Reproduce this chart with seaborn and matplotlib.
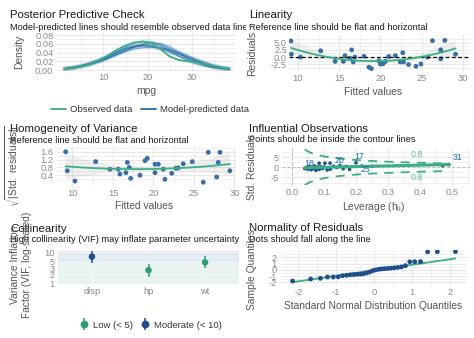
import matplotlib
matplotlib.use("Agg")
import matplotlib.pyplot as plt
from matplotlib.collections import PolyCollection
from matplotlib.lines import Line2D
from matplotlib.legend_handler import HandlerTuple
from matplotlib.ticker import FixedLocator, FormatStrFormatter, FixedFormatter, NullFormatter
from matplotlib.transforms import Bbox, TransformedBbox
import numpy as np
import pandas as pd
import seaborn as sns

# ------------------------------------------------------------------ data
# Posterior predictive check: density of mpg on a shared grid
mpg_grid = [1.2, 3, 5, 7, 9, 11, 13, 15, 17, 19, 21, 23, 25, 27, 29, 31, 33, 35, 37, 38.4]
observed_density = [0.0025, 0.004, 0.008, 0.013, 0.022, 0.033, 0.046, 0.056, 0.063, 0.065,
                    0.060, 0.047, 0.031, 0.023, 0.020, 0.017, 0.013, 0.009, 0.005, 0.003]
predicted_a = [0.003, 0.005, 0.009, 0.014, 0.021, 0.029, 0.038, 0.046, 0.053, 0.056,
               0.056, 0.052, 0.046, 0.038, 0.029, 0.021, 0.014, 0.009, 0.005, 0.003]
predicted_b = [0.004, 0.006, 0.010, 0.016, 0.024, 0.033, 0.042, 0.050, 0.055, 0.057,
               0.054, 0.048, 0.040, 0.032, 0.024, 0.017, 0.011, 0.007, 0.004, 0.002]
predicted_c = [0.002, 0.004, 0.007, 0.012, 0.018, 0.026, 0.035, 0.045, 0.054, 0.060,
               0.062, 0.058, 0.049, 0.038, 0.027, 0.018, 0.011, 0.006, 0.003, 0.002]
predicted_d = [0.003, 0.006, 0.010, 0.015, 0.021, 0.028, 0.035, 0.042, 0.048, 0.051,
               0.052, 0.050, 0.046, 0.040, 0.033, 0.025, 0.018, 0.011, 0.006, 0.004]
predicted_e = [0.002, 0.004, 0.008, 0.013, 0.020, 0.030, 0.041, 0.052, 0.061, 0.066,
               0.064, 0.056, 0.044, 0.032, 0.022, 0.014, 0.009, 0.005, 0.003, 0.002]
predicted_f = [0.003, 0.005, 0.009, 0.015, 0.023, 0.032, 0.041, 0.049, 0.054, 0.055,
               0.053, 0.049, 0.043, 0.036, 0.029, 0.022, 0.015, 0.009, 0.005, 0.003]
predicted_g = [0.002, 0.005, 0.008, 0.013, 0.019, 0.027, 0.036, 0.045, 0.052, 0.058,
               0.061, 0.060, 0.053, 0.042, 0.031, 0.021, 0.013, 0.007, 0.004, 0.002]
predicted_draws = [predicted_a, predicted_b, predicted_c, predicted_d,
                   predicted_e, predicted_f, predicted_g]

# Linearity: fitted values and residuals
lin_fitted = [9.15, 9.2, 10.3, 12.75, 14.5, 15.5, 15.7, 16.3, 16.5, 16.7, 16.9, 18.0,
              18.6, 18.9, 19.8, 20.0, 20.3, 20.6, 21.0, 21.8, 22.4, 22.7, 22.8, 23.4,
              24.3, 24.9, 25.7, 26.3, 27.3, 27.3, 27.8, 29.1]
lin_resid = [5.6, 1.0, 0.0, 2.2, -1.5, -1.5, 0.5, -0.35, 2.5, -1.7, 0.0, 0.3,
             -3.5, -4.0, -1.3, -2.4, -2.3, -1.5, 0.2, 0.5, -1.7, 1.5, -1.7, -2.6,
             -3.2, -2.4, 0.0, 5.7, 2.5, -0.6, 5.8, 1.0]

# Homogeneity of variance: fitted values and sqrt(|standardised residuals|)
hom_fitted = [9.16, 9.36, 10.31, 12.86, 14.63, 15.65, 15.86, 16.6, 16.77, 17.01,
              17.18, 18.33, 18.95, 19.24, 20.19, 20.19, 20.6, 21.21, 21.42, 22.25,
              22.78, 23.06, 23.68, 24.79, 26.15, 26.77, 27.8, 28.0, 28.21, 29.44]
hom_sqrt_resid = [1.6, 0.62, 0.09, 1.09, 0.70, 0.70, 0.45, 0.52, 1.05, 0.79,
                  0.23, 0.39, 1.14, 1.26, 0.52, 0.96, 0.96, 0.70, 0.18, 0.49,
                  0.75, 0.77, 0.98, 1.09, 0.03, 1.57, 0.30, 1.05, 1.57, 0.62]

# Influential observations: leverage and standardised residuals
infl_leverage = [0.085, 0.119, 0.20, 0.218, 0.49, 0.103,
                 0.04, 0.045, 0.05, 0.05, 0.055, 0.06, 0.06, 0.065, 0.07, 0.07,
                 0.075, 0.08, 0.085, 0.09, 0.095, 0.10,
                 0.11, 0.12, 0.13, 0.14, 0.15, 0.16, 0.17, 0.18, 0.25, 0.47]
infl_std_resid = [2.0, 2.05, 2.25, 0.64, 1.3, 2.0,
                  -0.6, -0.5, 0.1, -0.9, 0.4, -1.2, 0.0, -0.3, 0.6, -0.7,
                  -1.5, 0.2, -1.0, 0.3, -0.6, 0.1,
                  -1.3, -0.9, 0.5, -0.1, 0.9, -0.7, 0.4, -1.0, 0.5, 0.8]
infl_labels = ["18", "20", "17", "25", "31"]          # ids of the first five points
infl_label_offsets = [(-7, 0), (7, 2), (2, 4.5), (3, -2.5), (6, 5)]
cook_level = 0.8
n_params = 4

# Collinearity: variance inflation factors with intervals
vif_terms = ["disp", "hp", "wt"]
vif_values = [7.3, 2.7, 4.8]
vif_low = [4.7, 1.6, 3.1]
vif_high = [11.5, 4.3, 7.6]
vif_class = ["Moderate (< 10)", "Low (< 5)", "Low (< 5)"]

# Normality of residuals: theoretical vs sample quantiles
theoretical_q = [-2.154, -1.676, -1.418, -1.230, -1.078, -0.947, -0.831, -0.725,
                 -0.626, -0.534, -0.445, -0.360, -0.278, -0.197, -0.118, -0.039,
                 0.039, 0.118, 0.197, 0.278, 0.360, 0.445, 0.534, 0.626,
                 0.725, 0.831, 0.947, 1.078, 1.230, 1.418, 1.676, 2.154]
sample_q = [-1.79, -1.47, -1.36, -1.15, -1.15, -1.12, -0.94, -0.88,
            -0.80, -0.76, -0.72, -0.68, -0.62, -0.50, -0.36, -0.15,
            -0.02, 0.08, 0.14, 0.18, 0.22, 0.27, 0.32, 0.38,
            0.46, 0.66, 1.28, 1.30, 1.31, 2.88, 2.90, 2.92]
qq_intercept = -0.08
qq_slope = 0.88

# ------------------------------------------------------------------ style
sns.set_theme(style="white")
plt.rcParams["font.family"] = ["Liberation Sans", "DejaVu Sans"]
plt.rcParams["mathtext.fontset"] = "custom"
plt.rcParams["mathtext.rm"] = "Liberation Sans"
plt.rcParams["mathtext.it"] = "Liberation Sans:italic"
plt.rcParams["axes.unicode_minus"] = False

GREEN = "#3aaf85"
BLUE = "#1b6ca8"
DOT = "#3a6ea5"
NAVY = "#1f4e8a"
RED = "#cd201f"
GRID = "#e8e8e8"
TITLE_C = "#1a1a1a"
AXT_C = "#555555"
TICK_C = "#8a8a8a"

TITLE_PT = 8.2
SUB_PT = 6.7
AXT_PT = 7.4
TICK_PT = 6.7

W, H = 474, 338
fig = plt.figure(figsize=(W / 100, H / 100), dpi=100)
fig.patch.set_facecolor("white")

LEFT_CLIP = TransformedBbox(Bbox([[0, 0], [246 / W, 1]]), fig.transFigure)


def panel(x0, y0, x1, y1, ypad=2.0):
    ax = fig.add_axes([x0 / W, 1 - y1 / H, (x1 - x0) / W, (y1 - y0) / H])
    ax.set_facecolor("white")
    for s in ax.spines.values():
        s.set_visible(False)
    ax.tick_params(which="both", length=0, labelsize=TICK_PT, colors=TICK_C)
    ax.tick_params(axis="x", pad=2.0)
    ax.tick_params(axis="y", pad=ypad)
    ax.set_axisbelow(True)
    ax.grid(True, which="major", color=GRID, lw=0.8)
    ax.grid(True, which="minor", color=GRID, lw=0.45)
    ax.set_xlabel("")
    ax.set_ylabel("")
    return ax


def ticks(ax, xmaj=None, xmin=None, ymaj=None, ymin=None, xfmt=None, yfmt=None):
    if xmaj is not None:
        ax.xaxis.set_major_locator(FixedLocator(xmaj))
    if xmin is not None:
        ax.xaxis.set_minor_locator(FixedLocator(xmin))
    if ymaj is not None:
        ax.yaxis.set_major_locator(FixedLocator(ymaj))
    if ymin is not None:
        ax.yaxis.set_minor_locator(FixedLocator(ymin))
    if xfmt:
        ax.xaxis.set_major_formatter(FormatStrFormatter(xfmt))
    if yfmt:
        ax.yaxis.set_major_formatter(FormatStrFormatter(yfmt))
    ax.xaxis.set_minor_formatter(NullFormatter())
    ax.yaxis.set_minor_formatter(NullFormatter())


def txt(x, y, s, size, color, clip=False, **kw):
    t = fig.text(x / W, 1 - y / H, s, fontsize=size, color=color, **kw)
    if clip:
        t.set_clip_on(True)
        t.set_clip_box(LEFT_CLIP)
    return t


def headings(x, y_title, y_sub, title, subtitle, clip=False):
    txt(x, y_title, title, TITLE_PT, TITLE_C, va="baseline", ha="left")
    txt(x, y_sub, subtitle, SUB_PT, TITLE_C, va="baseline", ha="left", clip=clip)


def ylab(x, y, s):
    txt(x, y, s, AXT_PT, AXT_C, rotation=90, ha="center", va="center",
        multialignment="center")


def xlab(x, y, s):
    txt(x, y, s, AXT_PT, AXT_C, ha="center", va="baseline")


def grey_band(ax):
    for c in ax.collections:
        if isinstance(c, PolyCollection):
            c.set_facecolor((0.62, 0.62, 0.62, 0.28))
            c.set_edgecolor("none")


# ---------------------------------------------------- posterior predictive
ax = panel(57, 33, 236, 70.5, ypad=2.6)
ppc_long = pd.DataFrame({
    "mpg": mpg_grid * len(predicted_draws),
    "density": sum(predicted_draws, []),
    "draw": np.repeat(np.arange(len(predicted_draws)), len(mpg_grid)),
})
sns.lineplot(data=ppc_long, x="mpg", y="density", units="draw", estimator=None,
             color=BLUE, lw=3.0, alpha=0.08, ax=ax)
sns.lineplot(data=ppc_long, x="mpg", y="density", units="draw", estimator=None,
             color=BLUE, lw=0.8, alpha=0.5, ax=ax)
sns.lineplot(x=mpg_grid, y=observed_density, color=GREEN, lw=1.3, ax=ax)
ax.set_xlim(-0.5, 40.0)
ax.set_ylim(-0.0011, 0.0846)
ticks(ax, [10, 20, 30], [5, 15, 25, 35], [0, 0.02, 0.04, 0.06, 0.08],
      [0.01, 0.03, 0.05, 0.07], "%g", "%.2f")
ax.set_xlabel("")
ax.set_ylabel("")
headings(10, 18, 29.5, "Posterior Predictive Check",
         "Model-predicted lines should resemble observed data lines", clip=True)
ylab(19.5, 52, "Density")
xlab(146.5, 94, "mpg")
ppc_handles = [Line2D([], [], color=GREEN, lw=1.3), Line2D([], [], color=BLUE, lw=1.3)]
fig.legend(ppc_handles, ["Observed data", "Model-predicted data"], loc="center",
           bbox_to_anchor=(150 / W, 1 - 110 / H), ncol=2, frameon=False,
           fontsize=6.8, handlelength=1.6, handletextpad=0.4, columnspacing=0.9,
           labelcolor="#333333", borderpad=0, borderaxespad=0)

# ---------------------------------------------------------------- linearity
ax = panel(289, 35, 470, 71.5, ypad=1.5)
sns.scatterplot(x=lin_fitted, y=lin_resid, color=DOT, s=12, edgecolor="none", ax=ax,
                zorder=2)
sns.regplot(x=lin_fitted, y=lin_resid, order=2, scatter=False, ci=95, n_boot=500,
            seed=3, color=GREEN, line_kws=dict(lw=1.3, zorder=4), ax=ax)
grey_band(ax)
ax.axhline(0, color="black", ls=(0, (3, 2)), lw=0.9, zorder=3)
ax.set_xlim(8.91, 30.85)
ax.set_ylim(-5.0, 7.67)
ticks(ax, [10, 15, 20, 25, 30], [12.5, 17.5, 22.5, 27.5], [-2.5, 0, 2.5, 5.0],
      [-3.75, -1.25, 1.25, 3.75, 6.25], "%g", "%.1f")
ax.set_xlabel("")
ax.set_ylabel("")
headings(249, 18, 29.5, "Linearity", "Reference line should be flat and horizontal")
ylab(252, 53.3, "Residuals")
xlab(373, 95.4, "Fitted values")

# ------------------------------------------------------- homogeneity of var
ax = panel(57, 146.7, 236, 186.5, ypad=2.6)
sns.scatterplot(x=hom_fitted, y=hom_sqrt_resid, color=DOT, s=12, edgecolor="none",
                ax=ax, zorder=2)
sns.regplot(x=hom_fitted, y=hom_sqrt_resid, order=2, scatter=False, ci=95, n_boot=500,
            seed=3, color=GREEN, line_kws=dict(lw=1.3, zorder=4), ax=ax)
grey_band(ax)
ax.set_xlim(8.09, 30.19)
ax.set_ylim(-0.19, 1.86)
ticks(ax, [10, 15, 20, 25, 30], [12.5, 17.5, 22.5, 27.5], [0.4, 0.8, 1.2, 1.6],
      [0.2, 0.6, 1.0, 1.4, 1.8], "%g", "%.1f")
ax.set_xlabel("")
ax.set_ylabel("")
headings(10, 132.3, 143.3, "Homogeneity of Variance",
         "Reference line should be flat and horizontal")
ylab(13, 166, r"$\sqrt{|\mathrm{Std.\ residuals}|}$")
xlab(144, 209.4, "Fitted values")

# ---------------------------------------------------- influential observations
ax = panel(282, 148, 470, 185, ypad=2.4)
ax.axhline(0, color="#b5b5b5", ls=(0, (3, 3)), lw=0.6, zorder=1)
ax.axvline(0, color="#b5b5b5", ls=(0, (3, 3)), lw=0.6, zorder=1)
h = np.linspace(min(infl_leverage), max(infl_leverage), 120)
contour = np.sqrt(cook_level * n_params * (1 - h) / h)
ax.plot(h, contour, color=GREEN, lw=1.3, ls=(0, (5, 4)), zorder=2)
ax.plot(h, -contour, color=GREEN, lw=1.3, ls=(0, (5, 4)), zorder=2)
sns.scatterplot(x=infl_leverage, y=infl_std_resid, color=NAVY, s=7, edgecolor="none",
                ax=ax, zorder=3)
sns.regplot(x=infl_leverage, y=infl_std_resid, scatter=False, ci=None, color=GREEN,
            line_kws=dict(lw=2.2, zorder=4), ax=ax)
for lab, lv, sr, off in zip(infl_labels, infl_leverage, infl_std_resid, infl_label_offsets):
    ax.annotate(lab, (lv, sr), xytext=off, textcoords="offset points", ha="center",
                va="center", fontsize=6.3, color=BLUE, zorder=5)
h_lab = 0.39
c_lab = np.sqrt(cook_level * n_params * (1 - h_lab) / h_lab)
ax.annotate(f"{cook_level:g}", (h_lab, c_lab), xytext=(0, 6), textcoords="offset points",
            ha="center", va="center", fontsize=6.3, color=GREEN, alpha=0.8)
ax.annotate(f"{cook_level:g}", (h_lab, -c_lab), xytext=(0, -4), textcoords="offset points",
            ha="center", va="center", fontsize=6.3, color=GREEN, alpha=0.8)
ax.set_xlim(-0.031, 0.556)
ax.set_ylim(-8.68, 9.46)
ticks(ax, [0, 0.1, 0.2, 0.3, 0.4, 0.5], [0.05, 0.15, 0.25, 0.35, 0.45, 0.55],
      [-5, 0, 5], [-7.5, -2.5, 2.5, 7.5], "%.1f", "%g")
ax.set_xlabel("")
ax.set_ylabel("")
headings(249, 131.7, 142.3, "Influential Observations",
         "Points should be inside the contour lines")
ylab(252, 167, "Std. Residuals")
xlab(373.7, 209.7, r"Leverage ($\mathrm{h_{ii}}$)")

# -------------------------------------------------------------- collinearity
ax = panel(58, 251, 239, 284, ypad=2.6)
ax.set_yscale("log")
ax.axhspan(0.98, 5, color=GREEN, alpha=0.13, lw=0, zorder=0.1)
ax.axhspan(5, 10, color=BLUE, alpha=0.13, lw=0, zorder=0.1)
ax.axhspan(10, 11.0, color=RED, alpha=0.13, lw=0, zorder=0.1)
ax.grid(True, which="major", color="#f4f4f4", lw=0.8)
ax.grid(True, which="minor", color="#f4f4f4", lw=0.45)
vif_df = pd.DataFrame({"term": vif_terms, "vif": vif_values, "low": vif_low,
                       "high": vif_high, "cls": vif_class})
vif_df["pos"] = np.arange(len(vif_df))
vif_palette = {"Low (< 5)": "#2e9e77", "Moderate (< 10)": NAVY}
ax.vlines(vif_df["pos"], vif_df["low"], vif_df["high"],
          colors=[vif_palette[c] for c in vif_df["cls"]], lw=1.1, zorder=3)
sns.scatterplot(data=vif_df, x="pos", y="vif", hue="cls", palette=vif_palette, s=22,
                edgecolor="none", legend=False, ax=ax, zorder=4)
ax.set_xlim(-0.6, 2.6)
ax.set_ylim(0.98, 11.0)
ax.xaxis.set_major_locator(FixedLocator(list(vif_df["pos"])))
ax.xaxis.set_major_formatter(FixedFormatter(vif_terms))
ax.xaxis.set_minor_locator(FixedLocator([]))
ax.yaxis.set_major_locator(FixedLocator([1, 2, 3, 5, 10]))
ax.yaxis.set_major_formatter(FixedFormatter(["1", "2", "3", "5", "10"]))
ax.yaxis.set_minor_locator(FixedLocator([1.41, 2.45, 3.87, 7.07]))
ax.yaxis.set_minor_formatter(NullFormatter())
ax.set_xlabel("")
ax.set_ylabel("")
headings(10, 231.7, 241.7, "Collinearity",
         "High collinearity (VIF) may inflate parameter uncertainty", clip=True)
ylab(21, 265, "Variance Inflation\nFactor (VIF, log-scaled)")
vif_handles = []
for cls in ["Low (< 5)", "Moderate (< 10)"]:
    col = vif_palette[cls]
    vif_handles.append((Line2D([], [], marker="|", ms=9, mew=1.1, color=col, ls="none"),
                        Line2D([], [], marker="o", ms=4.6, color=col, ls="none")))
fig.legend(vif_handles, ["Low (< 5)", "Moderate (< 10)"], loc="center",
           bbox_to_anchor=(151 / W, 1 - 325 / H), ncol=2, frameon=False, fontsize=6.8,
           handlelength=0.8, handletextpad=0.5, columnspacing=0.9, labelcolor="#333333",
           handler_map={tuple: HandlerTuple(ndivide=1)}, borderpad=0, borderaxespad=0)

# ------------------------------------------------------ normality of residuals
ax = panel(281, 250, 467, 285, ypad=2.9)
sns.scatterplot(x=theoretical_q, y=sample_q, color=NAVY, s=12, edgecolor="none",
                ax=ax, zorder=3)
qq_x = [theoretical_q[0], theoretical_q[-1]]
sns.lineplot(x=qq_x, y=[qq_intercept + qq_slope * v for v in qq_x], color=GREEN,
             lw=1.3, ax=ax, zorder=2)
ax.set_xlim(-2.46, 2.46)
ax.set_ylim(-2.43, 3.17)
ticks(ax, [-2, -1, 0, 1, 2], [-1.5, -0.5, 0.5, 1.5], [-2, -1, 0, 1, 2],
      [-1.5, -0.5, 0.5, 1.5, 2.5], "%g", "%g")
ax.set_xlabel("")
ax.set_ylabel("")
headings(249, 230.7, 242.3, "Normality of Residuals", "Dots should fall along the line")
ylab(252, 270, "Sample Quantiles")
xlab(373.3, 309.1, "Standard Normal Distribution Quantiles")

fig.savefig("out.png", dpi=100, facecolor="white")
